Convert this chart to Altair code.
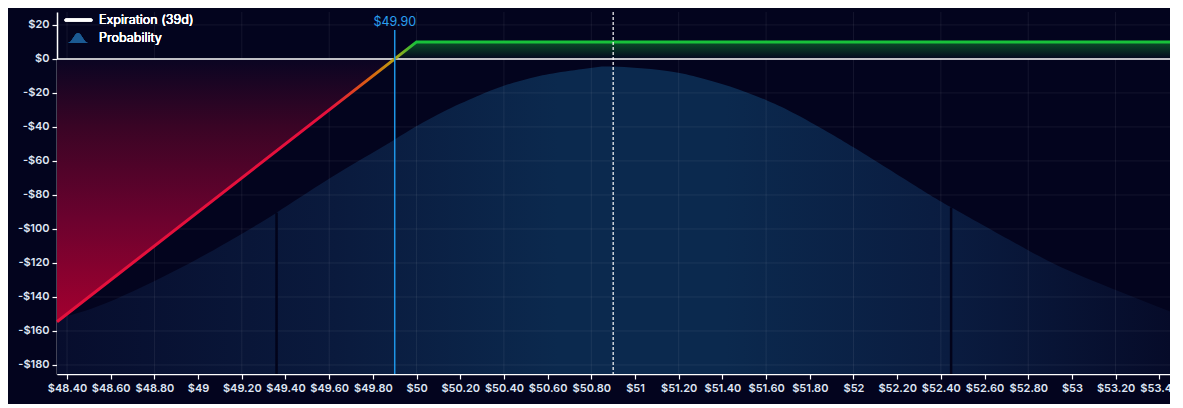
import altair as alt
import pandas as pd

# ---- data ----
# P&L at expiration (USD) vs underlying price
payoff_price = [48.354, 49.90, 50.00, 53.449]
payoff_value = [-154.6, 0.0, 10.0, 10.0]

loss_price = [48.354, 49.90]
loss_value = [-154.6, 0.0]
gain_price = [49.90, 50.00, 53.449]
gain_value = [0.0, 10.0, 10.0]

# probability curve (drawn on the P&L axis)
prob_price = [48.354, 48.580, 48.930, 49.191, 49.359, 49.603, 49.832, 49.898,
              49.997, 50.138, 50.291, 50.397, 50.519, 50.642, 50.795, 50.901,
              51.130, 51.283, 51.435, 51.604, 51.741, 51.894, 52.000, 52.275,
              52.447, 52.801, 53.053, 53.451]
prob_value = [-152.5, -143.5, -122.2, -103.5, -90.4, -70.2, -52.7, -47.6,
              -39.8, -30.0, -21.2, -15.9, -11.4, -8.1, -5.3, -4.5,
              -6.8, -10.6, -16.2, -24.4, -32.8, -43.8, -52.0, -74.0,
              -87.3, -112.6, -128.2, -148.6]

# one-sigma markers
sigma_price = [49.359, 52.447]
sigma_value = [-90.4, -87.3]

breakeven_price = 49.90
breakeven_label = "$49.90"
spot_price = 50.90

x_tick_values = [48.4, 48.6, 48.8, 49.0, 49.2, 49.4, 49.6, 49.8, 50.0, 50.2,
                 50.4, 50.6, 50.8, 51.0, 51.2, 51.4, 51.6, 51.8, 52.0, 52.2,
                 52.4, 52.6, 52.8, 53.0, 53.2, 53.4]
x_grid_values = [48.4, 48.8, 49.2, 49.6, 50.0, 50.4, 50.8, 51.2, 51.6, 52.0,
                 52.4, 52.8, 53.2]
y_tick_values = [20, 0, -20, -40, -60, -80, -100, -120, -140, -160, -180]
y_grid_values = [20, -20, -40, -60, -80, -100, -120, -140, -160, -180]

legend_labels = ["Expiration (39d)", "Probability"]

X_DOMAIN = [48.354, 53.449]
Y_DOMAIN = [-185.3, 27.6]
W, H = 1113, 362
BG = "#03041e"
FONT = "Inter"

xs = alt.Scale(domain=X_DOMAIN, nice=False, zero=False)
ys = alt.Scale(domain=Y_DOMAIN, nice=False, zero=False)

payoff_df = pd.DataFrame({"price": payoff_price, "pl": payoff_value})
loss_df = pd.DataFrame({"price": loss_price, "pl": loss_value})
gain_df = pd.DataFrame({"price": gain_price, "pl": gain_value})
prob_df = pd.DataFrame({"price": prob_price, "pl": prob_value})
sigma_df = pd.DataFrame({"price": sigma_price, "pl": sigma_value})
xgrid_df = pd.DataFrame({"price": x_grid_values})
ygrid_df = pd.DataFrame({"pl": y_grid_values})

x_axis = alt.Axis(
    values=x_tick_values,
    labelExpr="(abs(datum.value - round(datum.value)) < 0.001) ? '$' + format(datum.value, '.0f') : '$' + format(datum.value, '.2f')",
    title=None, labelOverlap=False, labelFlush=False,
)
y_axis = alt.Axis(
    values=y_tick_values,
    labelExpr="datum.value < 0 ? '-$' + format(abs(datum.value), 'd') : '$' + format(datum.value, 'd')",
    title=None, labelOverlap=False, labelFlush=False,
)

# every layer shares the same scales and the same axis definitions
px = alt.X("price:Q", scale=xs, axis=x_axis)
py = alt.Y("pl:Q", scale=ys, axis=y_axis)

prob_area = alt.Chart(prob_df).mark_area(
    interpolate="natural",
    fill=alt.Gradient(
        gradient="linear", x1=0, y1=0, x2=1, y2=0,
        stops=[
            alt.GradientStop(color="#070d2d", offset=0),
            alt.GradientStop(color="#0a1a3d", offset=0.25),
            alt.GradientStop(color="#0b294e", offset=0.45),
            alt.GradientStop(color="#0b294e", offset=0.6),
            alt.GradientStop(color="#0a1c40", offset=0.8),
            alt.GradientStop(color="#060b29", offset=1),
        ],
    ),
).encode(x=px, y=py, y2=alt.datum(Y_DOMAIN[0]))

vgrid = alt.Chart(xgrid_df).mark_rule(color="white", opacity=0.07, strokeWidth=1).encode(x=px)
hgrid = alt.Chart(ygrid_df).mark_rule(color="white", opacity=0.07, strokeWidth=1).encode(y=py)

sigma = alt.Chart(sigma_df).mark_rule(color="#02031a", strokeWidth=2.5).encode(
    x=px, y=py, y2=alt.datum(Y_DOMAIN[0])
)

loss_area = alt.Chart(loss_df).mark_area(
    fill=alt.Gradient(
        gradient="linear", x1=0, y1=0, x2=0, y2=1,
        stops=[
            alt.GradientStop(color="#0a0522", offset=0),
            alt.GradientStop(color="#3a0425", offset=0.26),
            alt.GradientStop(color="#6a022e", offset=0.6),
            alt.GradientStop(color="#a3002f", offset=1),
        ],
    ),
).encode(x=px, y=py, y2=alt.datum(0))

gain_area = alt.Chart(gain_df).mark_area(
    fill=alt.Gradient(
        gradient="linear", x1=0, y1=0, x2=0, y2=1,
        stops=[
            alt.GradientStop(color="#0b4f28", offset=0),
            alt.GradientStop(color="#03071f", offset=1),
        ],
    ),
).encode(x=px, y=py, y2=alt.datum(0))

zero_df = pd.DataFrame({"pl": [0.0]})
zero_line = alt.Chart(zero_df).mark_rule(color="white", strokeWidth=1.5).encode(y=py)

payoff_line = alt.Chart(payoff_df).mark_line(
    strokeWidth=3,
    stroke=alt.Gradient(
        gradient="linear", x1=0, y1=0, x2=1, y2=0,
        stops=[
            alt.GradientStop(color="#e5103c", offset=0),
            alt.GradientStop(color="#e5103c", offset=0.245),
            alt.GradientStop(color="#d8680f", offset=0.284),
            alt.GradientStop(color="#b9a012", offset=0.303),
            alt.GradientStop(color="#18c23a", offset=0.322),
            alt.GradientStop(color="#18c23a", offset=1),
        ],
    ),
).encode(x=px, y=py)

be_df = pd.DataFrame({"price": [breakeven_price], "label": [breakeven_label]})
be_line = alt.Chart(be_df).mark_rule(color="#1e95e6", strokeWidth=1.5).encode(
    x=px, y=alt.value(18), y2=alt.value(H)
)
be_text = alt.Chart(be_df).mark_text(
    color="#2a9ff0", font=FONT, fontSize=12.5, fontWeight=400,
    baseline="middle", align="center"
).encode(x=px, y=alt.value(9.5), text="label:N")

spot_df = pd.DataFrame({"price": [spot_price]})
spot_line = alt.Chart(spot_df).mark_rule(color="white", strokeWidth=1.2, strokeDash=[3, 2]).encode(x=px)

# legend
leg_line = alt.Chart(payoff_df).mark_rule(color="white", strokeWidth=3, strokeCap="round").encode(
    x=alt.value(9), x2=alt.value(34), y=alt.value(8)
)
leg_bell = alt.Chart(payoff_df).mark_point(
    shape="M-1,0.5C-0.6,0.5 -0.35,-0.5 0,-0.5C0.35,-0.5 0.6,0.5 1,0.5Z",
    filled=True, color="#1b5a93", opacity=1, size=400,
).encode(x=alt.value(21), y=alt.value(26))
leg_text1 = alt.Chart(payoff_df).mark_text(
    text=legend_labels[0], color="white", font=FONT, fontSize=12.5, fontWeight=400,
    align="left", baseline="middle"
).encode(x=alt.value(42), y=alt.value(8))
leg_text2 = alt.Chart(payoff_df).mark_text(
    text=legend_labels[1], color="white", font=FONT, fontSize=12.5, fontWeight=400,
    align="left", baseline="middle"
).encode(x=alt.value(42), y=alt.value(25.5))

chart = alt.layer(
    prob_area, vgrid, hgrid, sigma, loss_area, gain_area, zero_line,
    payoff_line, be_line, be_text, spot_line,
    leg_line, leg_bell, leg_text1, leg_text2,
).properties(
    width=W, height=H,
    autosize=alt.AutoSizeParams(type="none"),
    padding={"left": 49, "top": 4, "right": 0, "bottom": 30},
    background=BG,
).configure_view(
    strokeWidth=0, fill=BG
).configure_axis(
    grid=False, domainColor="white", domainWidth=1.5, tickColor="white",
    tickSize=5, tickWidth=1.2, labelColor="#dfe6f4", labelFont=FONT,
    labelFontSize=11, labelFontWeight=600, labelPadding=3,
    labelOverlap=False, labelFlush=False, title=None,
)

chart.save("out.html", embed_options={"renderer": "svg", "actions": False})
